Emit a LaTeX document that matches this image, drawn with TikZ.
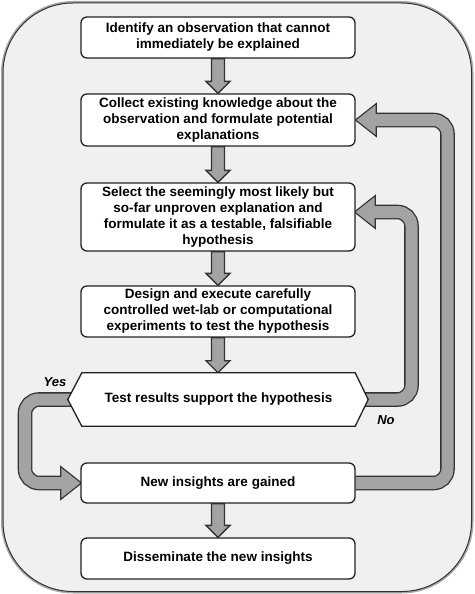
\documentclass[tikz,border=0pt]{standalone}
\usepackage{fontspec}
\setmainfont{Liberation Sans}
\usetikzlibrary{calc}
\pgfdeclarelayer{bg}
\pgfdeclarelayer{mid}
\pgfsetlayers{bg,mid,main}
\definecolor{boxline}{HTML}{222222}
\definecolor{arrline}{HTML}{333333}
\definecolor{arrfill}{HTML}{A3A3A3}
\definecolor{framefill}{HTML}{F0F0F0}
\definecolor{frameline}{HTML}{333333}
\definecolor{frameglow}{HTML}{A8A8A8}
\newcommand\vdown[2]{\path[varrow] let \p1=(#1.south), \p2=(#2.north) in
  (\x1-6.5pt,\y1) -- (\x1-6.5pt,\y2+12pt) -- (\x1-12pt,\y2+12pt) -- (\x1,\y2)
  -- (\x1+12pt,\y2+12pt) -- (\x1+6.5pt,\y2+12pt) -- (\x1+6.5pt,\y1) -- cycle;}
\begin{document}
\begin{tikzpicture}[x=1pt,y=-1pt,
  box/.style={draw=boxline, line width=1.3pt, fill=white, rounded corners=6pt,
    minimum width=274pt, align=center, inner sep=0pt,
    font=\bfseries\fontsize{13.5}{16}\selectfont},
  hexnode/.style={minimum width=273pt, minimum height=53pt, align=center, inner sep=0pt,
    font=\bfseries\fontsize{13.5}{16}\selectfont},
  hexshape/.style={draw=boxline, line width=1.3pt, fill=white, line join=miter},
  varrow/.style={draw=arrline, line width=1.3pt, fill=arrfill, line join=miter},
  bandout/.style={draw=arrline, line width=14.6pt, rounded corners=14pt},
  bandin/.style={draw=arrfill, line width=12pt, rounded corners=14pt},
  headout/.style={draw=arrline, line width=2.6pt, fill=arrfill, line join=miter},
  headin/.style={fill=arrfill},
  lab/.style={font=\bfseries\itshape\fontsize{13}{15}\selectfont, inner sep=0pt},
  glow/.style={draw=frameglow, line width=4pt, rounded corners=70pt},
  frame/.style={draw=frameline, line width=1pt, fill=framefill, rounded corners=70pt}]
\useasboundingbox (0,0) rectangle (474,594);

\node[box, minimum height=41pt] (s1) at (218,37.5) {Identify an observation that cannot\\immediately be explained};
\node[box, minimum height=52pt] (s2) at (218,120) {Collect existing knowledge about the\\observation and formulate potential\\explanations};
\node[box, minimum height=68pt] (s3) at (218,217) {Select the seemingly most likely but\\so-far unproven explanation and\\formulate it as a testable, falsifiable\\hypothesis};
\node[box, minimum height=51pt] (s4) at (218,311.5) {Design and execute carefully\\controlled wet-lab or computational\\experiments to test the hypothesis};
\node[hexnode] (hex) at (218.5,399.5) {Test results support the hypothesis};
\coordinate (hexR) at ($(hex.east)+(13,0)$);
\coordinate (hexL) at ($(hex.west)+(-14,0)$);
\node[box, minimum height=40pt] (s6) at (218,483) {New insights are gained};
\node[box, minimum height=41pt] (s7) at (218,558.5) {Disseminate the new insights};
\node[lab] (yes) at (55,382) {Yes};
\node[lab] (no) at (386,420) {No};

\coordinate (noTip) at ($(s3.east)+(0,-5)$);
\coordinate (outTip) at ($(s2.east)+(1,0)$);
\coordinate (yesTip) at (s6.west);

\begin{pgfonlayer}{mid}
\draw[hexshape] (hex.north west) -- (hex.north east) -- (hexR) -- (hex.south east)
  -- (hex.south west) -- (hexL) -- cycle;
\end{pgfonlayer}

\begin{pgfonlayer}{bg}
\path[glow] (3,3) rectangle (471.5,591.5);
\path[frame] (3,3) rectangle (471.5,591.5);
% outlines
\draw[bandout] (hex.east) -- (411.5,399.5) |- ($(noTip)+(10,0)$);
\draw[bandout] (s6.east) -- (447.5,483) |- ($(outTip)+(10,0)$);
\draw[bandout] (hex.west) -- (25,399.5) |- ($(yesTip)+(-10,0)$);
\path[headout] (noTip) -- ++(19,-15) -- ++(0,30) -- cycle;
\path[headout] (outTip) -- ++(19,-15) -- ++(0,30) -- cycle;
\path[headout] (yesTip) -- ++(-19,-15) -- ++(0,30) -- cycle;
% fills
\draw[bandin] (hex.east) -- (411.5,399.5) |- ($(noTip)+(10,0)$);
\draw[bandin] (s6.east) -- (447.5,483) |- ($(outTip)+(10,0)$);
\draw[bandin] (hex.west) -- (25,399.5) |- ($(yesTip)+(-10,0)$);
\path[headin] (noTip) -- ++(19,-15) -- ++(0,30) -- cycle;
\path[headin] (outTip) -- ++(19,-15) -- ++(0,30) -- cycle;
\path[headin] (yesTip) -- ++(-19,-15) -- ++(0,30) -- cycle;
% vertical arrows
\vdown{s1}{s2}
\vdown{s2}{s3}
\vdown{s3}{s4}
\vdown{s4}{hex}
\vdown{s6}{s7}
\end{pgfonlayer}
\end{tikzpicture}
\end{document}
